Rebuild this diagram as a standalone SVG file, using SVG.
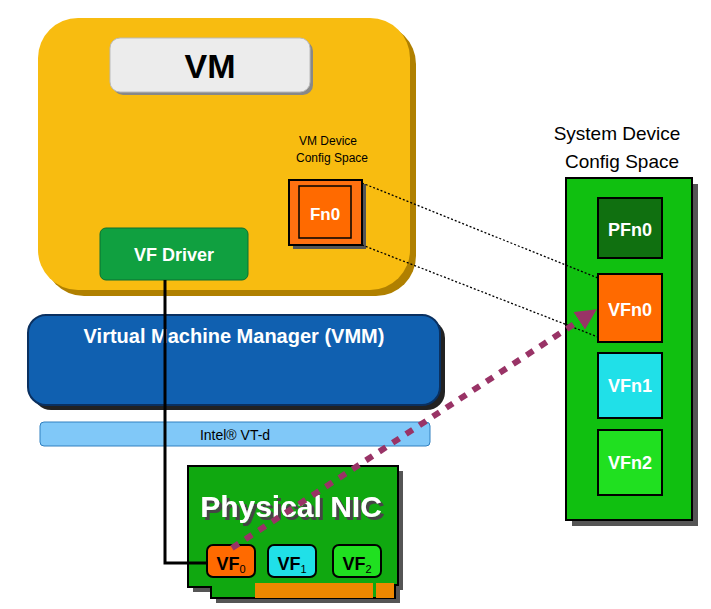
<svg xmlns="http://www.w3.org/2000/svg" width="711" height="609" viewBox="0 0 711 609">
<style>
text{font-family:"Liberation Sans",Arial,sans-serif;font-weight:bold;text-anchor:middle}
.w{fill:#fff}.k{fill:#000}
.sh{fill:#555}
.b{stroke:#000;stroke-width:2}
</style>
<defs>
<marker id="ah" viewBox="0 0 10 10" refX="5" refY="5" markerWidth="3.5" markerHeight="3.5" orient="auto"><path d="M0,0L10,5L0,10z" fill="#993366"/></marker>
<filter id="ds" x="-10%" y="-30%" width="130%" height="160%"><feDropShadow dx="3" dy="3" stdDeviation="0" flood-color="#444"/></filter>
</defs>
<rect width="711" height="609" fill="#fff"/>
<g id="vm">
<rect x="44" y="24" width="372" height="272" rx="40" fill="#b08000"/>
<rect x="38" y="18" width="372" height="272" rx="40" fill="#f8bc10"/>
<rect x="113" y="41" width="200" height="54" rx="10" fill="#888"/>
<rect x="110" y="38" width="200" height="54" rx="10" fill="#ececec" stroke="#bbb"/>
<text x="210" y="78" font-size="34" class="k">VM</text>
<text x="328" y="145" font-size="12" style="font-weight:normal">VM Device</text>
<text x="332" y="162" font-size="12" style="font-weight:normal">Config Space</text>
</g>
<g id="fn0">
<rect x="293" y="184" width="73" height="65" class="sh"/>
<rect x="289" y="180" width="73" height="65" fill="#ff7010" class="b"/>
<rect x="299" y="186" width="52" height="52" fill="#ff6a00" stroke="#000" stroke-width="1.5"/>
<text x="325" y="220" font-size="17" class="w">Fn0</text>
</g>
<g id="vfdriver">
<rect x="100" y="228" width="148" height="52" rx="6" fill="#10a040" stroke="#0a7030"/>
<text x="174" y="261" font-size="18" class="w">VF Driver</text>
</g>
<g id="vmm">
<rect x="33" y="320" width="412" height="90" rx="18" fill="#222"/>
<rect x="28" y="315" width="412" height="90" rx="18" fill="#1060b0" stroke="#0a3060" stroke-width="2"/>
<text x="234" y="343" font-size="20" class="w">Virtual Machine Manager (VMM)</text>
</g>
<g id="vtd">
<rect x="40" y="422" width="390" height="24" rx="4" fill="#80c8f8" stroke="#3080c0"/>
<text x="235" y="440" font-size="14" class="k" style="font-weight:normal">Intel® VT-d</text>
</g>
<g id="nic">
<path d="M193,471H403V590H400V603H216V592H193Z" class="sh"/>
<path d="M188,466H398V585H395V598H211V587H188Z" fill="#10a810" class="b"/>
<rect x="255" y="583" width="118" height="15" fill="#ee8800"/>
<rect x="376" y="583" width="18" height="15" fill="#ee8800"/>
<text x="291" y="517" font-size="30" class="w" filter="url(#ds)">Physical NIC</text>
<rect x="207" y="545" width="48" height="32" rx="6" fill="#ff6a00" class="b"/>
<rect x="268" y="545" width="48" height="32" rx="6" fill="#20e0e8" class="b"/>
<rect x="333" y="545" width="48" height="32" rx="6" fill="#20e020" class="b"/>
<text x="231" y="570" font-size="18" class="k">VF<tspan font-size="11" dy="3" style="font-weight:normal">0</tspan></text>
<text x="292" y="570" font-size="18" class="k">VF<tspan font-size="11" dy="3" style="font-weight:normal">1</tspan></text>
<text x="357" y="570" font-size="18" class="k">VF<tspan font-size="11" dy="3" style="font-weight:normal">2</tspan></text>
</g>
<g id="sysconfig">
<text x="617" y="140" font-size="19" style="font-weight:normal">System Device</text>
<text x="622" y="168" font-size="19" style="font-weight:normal">Config Space</text>
<rect x="572" y="184" width="126" height="342" class="sh"/>
<rect x="566" y="178" width="126" height="342" fill="#10c010" class="b"/>
<rect x="598" y="198" width="64" height="60" fill="#107010" class="b"/>
<text x="630" y="236" font-size="18" class="w">PFn0</text>
<rect x="598" y="274" width="64" height="68" fill="#ff6a00" class="b"/>
<text x="630" y="316" font-size="18" class="w">VFn0</text>
<rect x="598" y="353" width="64" height="65" fill="#20e0e8" class="b"/>
<text x="630" y="392" font-size="18" class="w">VFn1</text>
<rect x="598" y="430" width="64" height="65" fill="#20e020" class="b"/>
<text x="630" y="469" font-size="18" class="w">VFn2</text>
</g>
<g id="connectors" fill="none">
<path d="M165,280V563H207" stroke="#000" stroke-width="3"/>
<path d="M362,183L598,278M362,245L598,337" stroke="#000" stroke-width="1.3" stroke-dasharray="2,2"/>
<path d="M232,548L588,315" stroke="#993366" stroke-width="6" stroke-dasharray="8,8" marker-end="url(#ah)"/>
</g>
</svg>
